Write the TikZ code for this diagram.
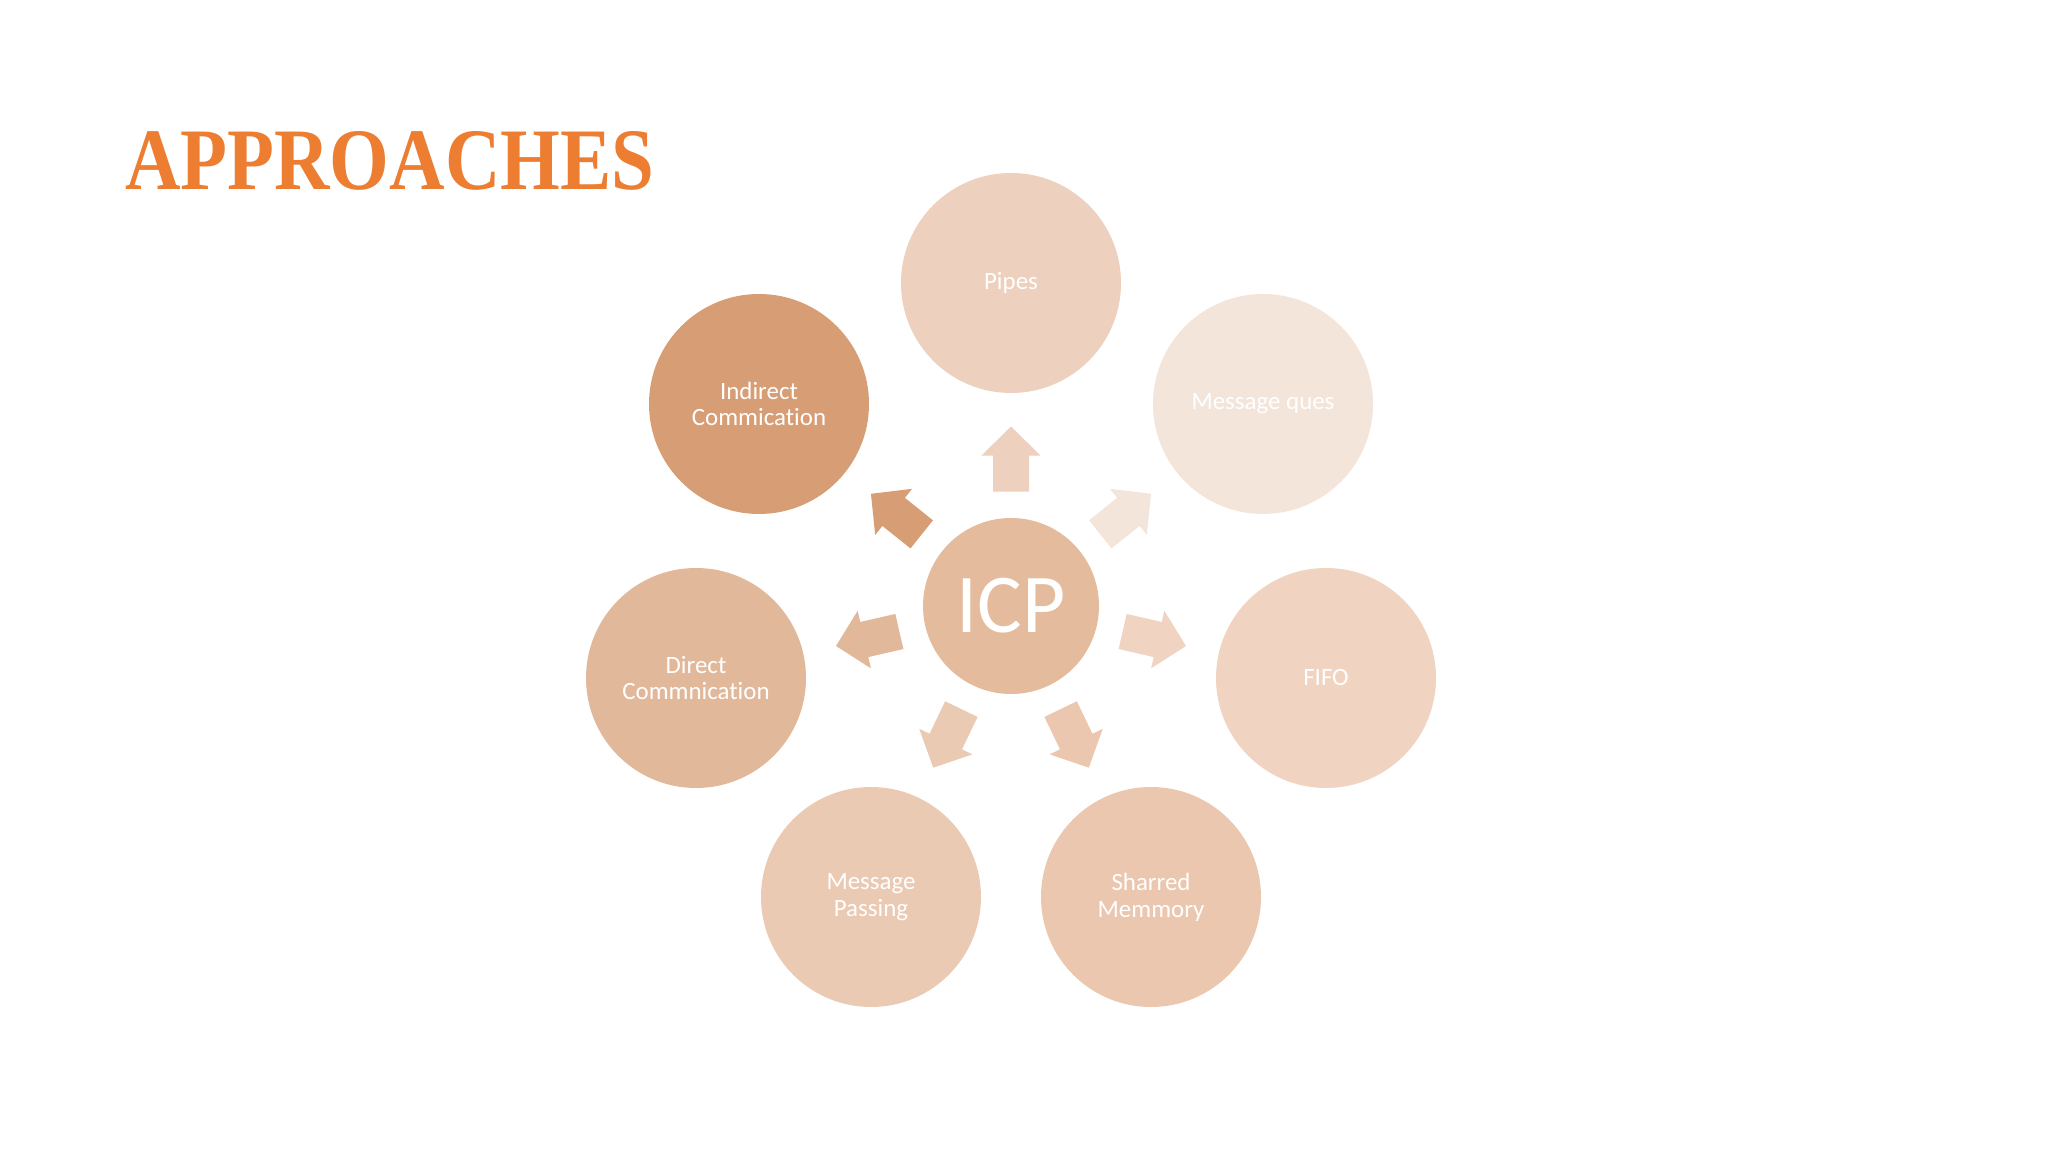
\documentclass[tikz,border=0pt]{standalone}
\usepackage{graphicx}
\usepackage{fontspec}
\setmainfont{Liberation Serif}
\newfontfamily\bubblefont[Ligatures=NoCommon]{Carlito}
\usetikzlibrary{calc}

\tikzset{
  blockarrow/.pic={
    \fill (-32.5bp,-18bp) -- (3.5bp,-18bp) -- (3.5bp,-29.5bp) -- (32.5bp,0bp)
      -- (3.5bp,29.5bp) -- (3.5bp,18bp) -- (-32.5bp,18bp) -- cycle;
  }
}

\begin{document}
\begin{tikzpicture}[line join=bevel,
  bubble/.style={circle,minimum size=220bp,inner sep=0pt,text=white,align=center,
    font=\bubblefont\fontsize{25}{27}\selectfont},
  hub/.style={bubble,minimum size=176bp,font=\bubblefont\fontsize{84}{84}\selectfont}]
  \useasboundingbox (0bp,0bp) rectangle (2048bp,1152bp);
  \fill[white] (0bp,0bp) rectangle (2048bp,1152bp);
%%
  \definecolor{titlecol}{rgb}{0.929,0.490,0.192};
  \definecolor{icpcol}{rgb}{0.898,0.733,0.616};
  \definecolor{pipescol}{rgb}{0.929,0.816,0.741};
  \definecolor{msgqcol}{rgb}{0.957,0.898,0.859};
  \definecolor{fifocol}{rgb}{0.941,0.827,0.757};
  \definecolor{shmemcol}{rgb}{0.922,0.780,0.686};
  \definecolor{msgpasscol}{rgb}{0.922,0.792,0.706};
  \definecolor{directcol}{rgb}{0.886,0.722,0.608};
  \definecolor{indirectcol}{rgb}{0.843,0.616,0.455};
  % Title
  \node[anchor=base west,inner sep=0pt,text=titlecol,
    font=\bfseries\fontsize{88}{88}\selectfont] (title) at (125bp,962bp)
    {\scalebox{0.876}[1]{APPROACHES}};
  % Node: ICP
\begin{scope}
  \node[hub,fill=icpcol] (icp) at (1011bp,546bp) {ICP};
\end{scope}
  % Node: Pipes
\begin{scope}
  \node[bubble,fill=pipescol] (pipes) at (1011bp,869bp) {Pipes};
\end{scope}
  % Node: Message ques
\begin{scope}
  \node[bubble,fill=msgqcol] (msgq) at (1263bp,748bp) {Message ques};
\end{scope}
  % Node: FIFO
\begin{scope}
  \node[bubble,fill=fifocol] (fifo) at (1326bp,474bp) {FIFO};
\end{scope}
  % Node: Sharred Memmory
\begin{scope}
  \node[bubble,fill=shmemcol] (shmem) at (1151bp,255bp) {Sharred\\Memmory};
\end{scope}
  % Node: Message Passing
\begin{scope}
  \node[bubble,fill=msgpasscol] (msgpass) at (871bp,255bp) {Message\\Passing};
\end{scope}
  % Node: Direct Commnication
\begin{scope}
  \node[bubble,fill=directcol] (direct) at (696bp,474bp) {Direct\\Commnication};
\end{scope}
  % Node: Indirect Commication
\begin{scope}
  \node[bubble,fill=indirectcol] (indirect) at (759bp,748bp) {Indirect\\Commication};
\end{scope}
%
  % Edge: ICP -> Pipes
  \pic[rotate=90,fill=pipescol] at ($(icp)!0.455!(pipes)$) {blockarrow};
  % Edge: ICP -> Message ques
  \pic[rotate=38.6,fill=msgqcol] at ($(icp)!0.455!(msgq)$) {blockarrow};
  % Edge: ICP -> FIFO
  \pic[rotate=-12.9,fill=fifocol] at ($(icp)!0.455!(fifo)$) {blockarrow};
  % Edge: ICP -> Sharred Memmory
  \pic[rotate=-64.3,fill=shmemcol] at ($(icp)!0.455!(shmem)$) {blockarrow};
  % Edge: ICP -> Message Passing
  \pic[rotate=-115.7,fill=msgpasscol] at ($(icp)!0.455!(msgpass)$) {blockarrow};
  % Edge: ICP -> Direct Commnication
  \pic[rotate=-167.1,fill=directcol] at ($(icp)!0.455!(direct)$) {blockarrow};
  % Edge: ICP -> Indirect Commication
  \pic[rotate=141.4,fill=indirectcol] at ($(icp)!0.455!(indirect)$) {blockarrow};
%
\end{tikzpicture}
\end{document}
